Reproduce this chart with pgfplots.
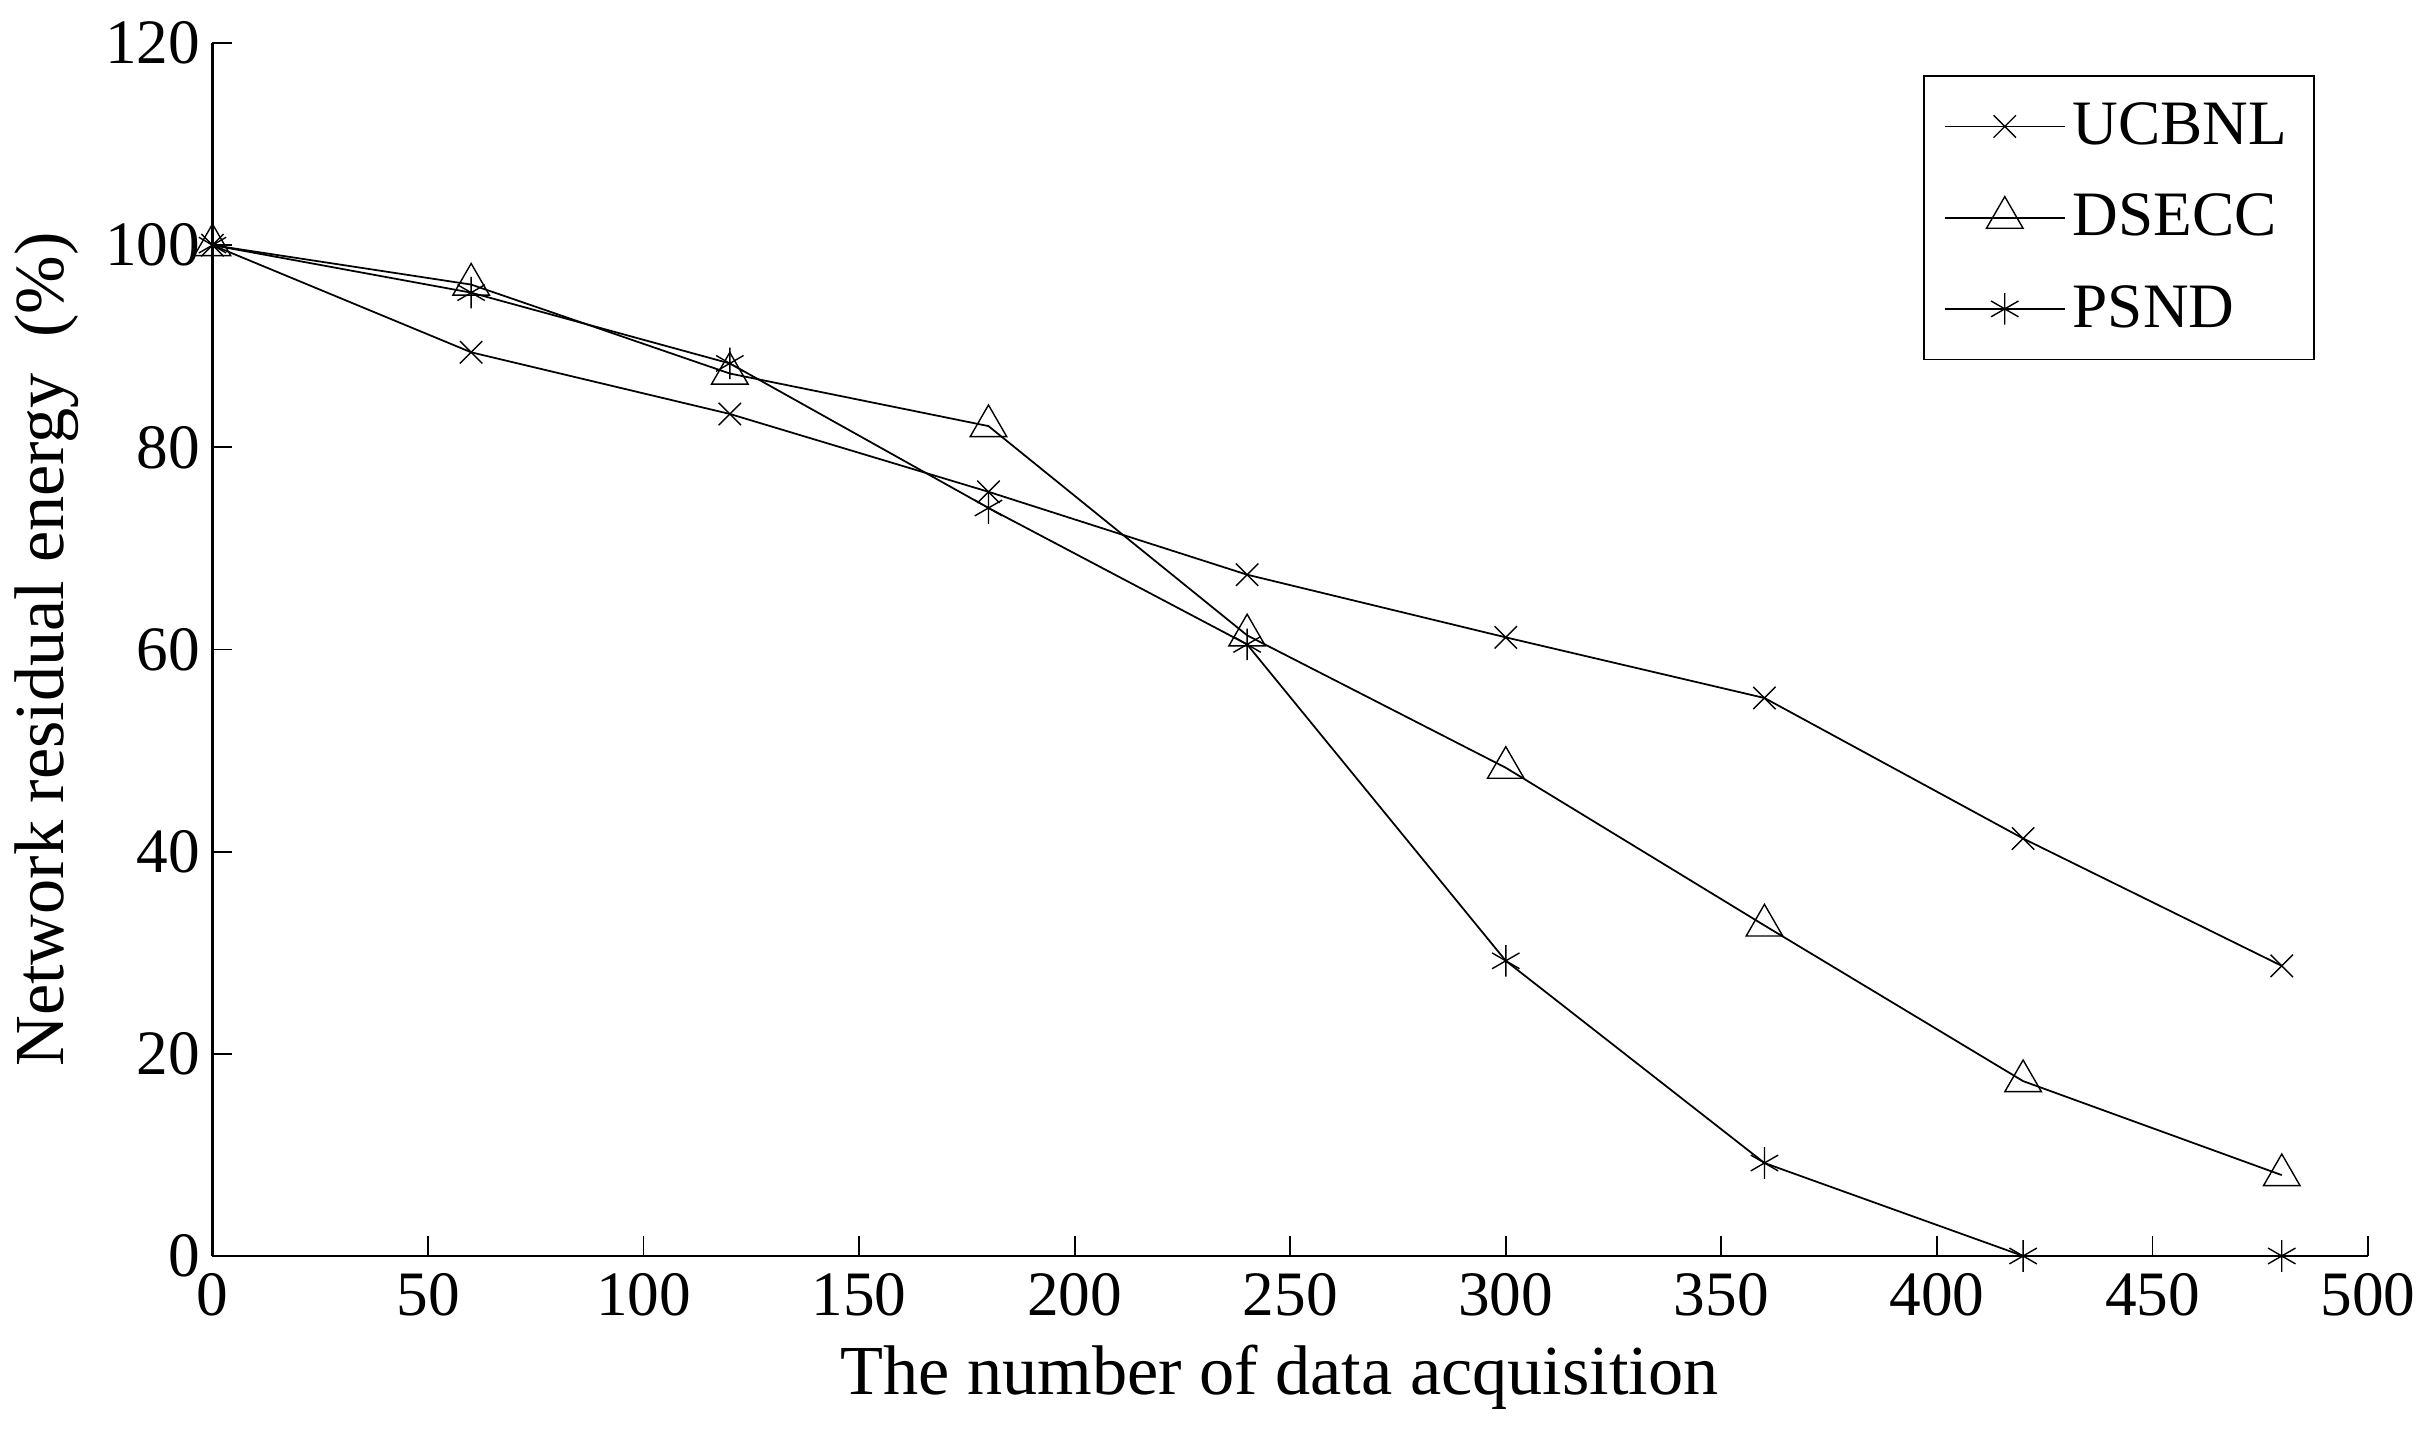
\documentclass[border=0pt]{standalone}
\usepackage{fontspec}
\setmainfont{Liberation Serif}
\usepackage{pgfplots}
\pgfplotsset{compat=1.18}
\newcommand{\bigfont}{\fontsize{18}{22}\selectfont}
\newcommand{\labfont}{\fontsize{20}{24}\selectfont}
\begin{document}
\begin{tikzpicture}
\useasboundingbox (-2.125cm,-1.82cm) rectangle (22.195cm,12.56cm);
\begin{axis}[
  at={(0,0)}, anchor=origin,
  scale only axis,
  width=21.555cm, height=12.13cm,
  xmin=0, xmax=500, ymin=0, ymax=120,
  xtick={0,50,...,500}, ytick={0,20,...,120},
  axis lines*=left,
  axis line style={line width=0.6pt, -},
  tick align=inside,
  major tick length=0.2cm,
  tick style={line width=0.5pt, black},
  /pgf/number format/assume math mode=true,
  ticklabel style={font=\bigfont},
  xticklabel style={yshift=-0.05cm},
  label style={font=\labfont},
  xlabel={The number of data acquisition},
  ylabel={Network residual energy~~(\%)},
  xlabel style={at={(axis description cs:0.495,-0.0998)}, anchor=center},
  ylabel style={at={(axis description cs:-0.077,0.5)}, anchor=center},
  legend style={at={(1,1)}, anchor=north east, xshift=-0.53cm, yshift=-0.32cm,
    draw=black, line width=0.5pt, font=\bigfont, row sep=0.3cm,
    inner xsep=0.2cm, inner ysep=0.2cm, cells={anchor=west}},
  legend cell align=left,
  legend image code/.code={
    \draw[mark repeat=2,mark phase=2,#1] plot coordinates {(0cm,0cm) (0.6cm,0cm) (1.2cm,0cm)};
  },
  every axis plot/.append style={black, line width=0.5pt, mark options={solid, line width=0.4pt}},
]
\addplot[mark=x, mark size=4.5pt] coordinates {
(0,100) (60,89.4) (120,83.3) (180,75.6) (240,67.4) (300,61.2) (360,55.2) (420,41.3) (480,28.7)};
\addlegendentry{UCBNL}
\addplot[mark=triangle, mark size=6pt] coordinates {
(0,100) (60,96.1) (120,87.3) (180,82.1) (240,61.4) (300,48.3) (360,32.7) (420,17.3) (480,8.0)};
\addlegendentry{DSECC}
\addplot[mark=asterisk, mark size=4.5pt] coordinates {
(0,100) (60,95.3) (120,88.3) (180,74.0) (240,60.5) (300,29.2) (360,9.2) (420,0) (480,0)};
\addlegendentry{PSND}
\end{axis}
\end{tikzpicture}
\end{document}
